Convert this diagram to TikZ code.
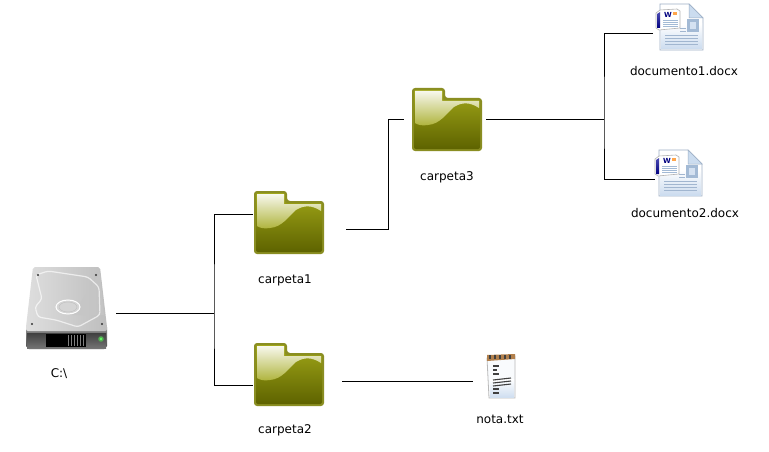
\documentclass[tikz,border=0pt]{standalone}
\usepackage{fontspec}
\setmainfont{DejaVu Sans}
\usetikzlibrary{calc}
\definecolor{foldedge}{HTML}{8A8E22}
\definecolor{foldtop}{HTML}{A0A618}
\definecolor{foldbot}{HTML}{5E6300}
\definecolor{disklight}{HTML}{DEDEDE}
\definecolor{diskmid}{HTML}{BEBEBE}
\definecolor{pageblue}{HTML}{A9C4E4}
\tikzset{
  x=1pt,y=-1pt,
  conn/.style={draw=black,line width=0.8pt},
  lbl/.style={font=\fontsize{12}{14}\selectfont,text=black,inner sep=0pt},
  iconbox/.style={inner sep=0pt,minimum width=#1,minimum height=1pt},
  foldericon/.pic={
    \fill[foldedge,rounded corners=3pt] (0,0) -- (33,0) -- (33,10) -- (70,10) -- (70,63) -- (0,63) -- cycle;
    \shade[top color=foldtop,bottom color=foldbot,rounded corners=2pt] (2,2) -- (31,2) -- (31,12) -- (68,12) -- (68,61) -- (2,61) -- cycle;
    \shade[top color=white!92!foldtop,bottom color=foldtop!85!white] (3,3) -- (30,3) -- (30,13) -- (67,13) -- (67,20)
      .. controls (58,14) and (50,14) .. (42,19) .. controls (34,26) and (28,36) .. (16,37)
      .. controls (10,38) and (6,37) .. (3,35) -- cycle;
  },
  docicon/.pic={
    \fill[white,draw=pageblue!70!gray,line width=0.8pt] (0,0) -- (29,0) -- (43,14) -- (43,46) -- (0,46) -- cycle;
    \shade[top color=white,bottom color=pageblue!60!white] (1,20) -- (42,20) -- (42,45) -- (1,45) -- cycle;
    \fill[pageblue!60!white,draw=pageblue!70!gray,line width=0.5pt] (29,0) -- (29,14) -- (43,14) -- cycle;
    \fill[pageblue!85!gray] (27,15) rectangle (39,28);
    \fill[pageblue!50!white] (30,18) rectangle (36,25);
    \foreach \yy in {24,27}{\draw[pageblue!80!gray,line width=0.7pt] (20,\yy) -- (26,\yy);}
    \foreach \yy in {31,34,37,40}{\draw[pageblue!80!gray,line width=0.7pt] (5,\yy) -- (38,\yy);}
    \fill[white,draw=gray!60,line width=0.6pt] (-4,9) -- (0,6) -- (17,5) -- (20,7) -- (20,24) -- (-1,26) -- (-4,24) -- cycle;
    \shade[top color=blue!40!gray,bottom color=blue!50!black] (-3,10) -- (0,8) -- (0,24) -- (-3,24) -- cycle;
    \fill[orange!70!white] (13,8) rectangle (17,11);
    \node[inner sep=0pt,text=blue!50!black,font=\fontsize{7}{7}\selectfont\bfseries] (wchar) at (8,11) {W};
    \foreach \yy in {16,18,20,22}{\draw[pageblue!85!gray,line width=0.6pt] (3,\yy) -- (18,\yy);}
  },
  noteicon/.pic={
    \fill[white!93!pageblue,draw=gray!55,line width=0.8pt] (0,3) -- (28,1) -- (28,43) -- (2,43) -- cycle;
    \shade[top color=white,bottom color=pageblue!55!white] (3,24) -- (27,24) -- (27,42) -- (3,42) -- cycle;
    \fill[gray!60!orange] (0,0) -- (28,-1) -- (28,4) -- (0,6) -- cycle;
    \foreach \xx in {3,8,13,18,23}{\draw[black!75,line width=1.2pt] (\xx,0) -- (\xx,4);}
    \foreach \ya/\xb in {11/12,15/10,19/12}{\draw[black!75,line width=1.1pt] (6,\ya) -- (\xb,\ya);}
    \foreach \yy in {22,25,28}{\draw[black!75,line width=1.1pt] (6,\yy+3) -- (24,\yy+1);}
    \foreach \ya/\xb in {34/12,38/12}{\draw[black!75,line width=1.1pt] (6,\ya) -- (\xb,\ya);}
  },
  diskicon/.pic={
    \shade[top color=black!45,bottom color=black!70] (0,60) -- (81,60) -- (81,79) -- (78,82) -- (3,82) -- (0,79) -- cycle;
    \shade[left color=disklight,right color=diskmid,rounded corners=2pt] (7,0) -- (74,0) -- (81,60) -- (81,64) -- (0,64) -- (0,60) -- cycle;
    \fill[gray!45,opacity=.7] (74,6) -- (78,48) -- (46,48) -- cycle;
    \draw[white,opacity=.65,line width=1.2pt,rounded corners=3pt] (10,8) -- (16,32) -- (9,40) -- (12,50) -- (30,53) -- (52,60) -- (74,48) -- (73,20) -- (62,10) -- (22,4) -- cycle;
    \draw[white,line width=1pt,fill=disklight!90!gray] (42,40) ellipse[x radius=12,y radius=7];
    \draw[gray!50,line width=0.4pt] (42,40) ellipse[x radius=9,y radius=5];
    \foreach \p in {(6,57),(76,57),(12,8),(70,8)}{\fill[gray!40!black] \p circle[radius=1.2];}
    \shade[top color=black!75,bottom color=black!55] (1,66) rectangle (80,81);
    \fill[black] (20,67) rectangle (60,80);
    \foreach \xx in {42,45,48,51,54,57}{\draw[black!50,line width=0.7pt] (\xx,68) -- (\xx,79);}
    \fill[green!35!gray] (75,72) circle[radius=2.8];
    \fill[green!60!white] (75,72) circle[radius=1.3];
  }
}
\begin{document}
\begin{tikzpicture}
\useasboundingbox (0,0) rectangle (769,452);
\fill[white] (0,0) rectangle (769,452);
% icons
\pic at (26,267) {diskicon};
\pic at (254,191) {foldericon};
\pic at (254,343) {foldericon};
\pic at (412,88) {foldericon};
\pic at (660,4) {docicon};
\pic at (659,150) {docicon};
\pic at (487,355) {noteicon};
% named attachment nodes at the icons' connector ends
\node[iconbox=0pt] (disk) at (116,313) {};
\node[iconbox=0pt] (f1in) at (253,214) {};
\node[iconbox=0pt] (f1out) at (346,229) {};
\node[iconbox=0pt] (f2in) at (253,385) {};
\node[iconbox=0pt] (f2out) at (342,381) {};
\node[iconbox=0pt] (f3in) at (404,119) {};
\node[iconbox=0pt] (f3out) at (486,119) {};
\node[iconbox=0pt] (d1in) at (653,33) {};
\node[iconbox=0pt] (d2in) at (655,179) {};
\node[iconbox=0pt] (notein) at (473,381) {};
\coordinate (jA) at (214,313);
\coordinate (jB) at (388,229);
\coordinate (jC) at (604,119);
% connectors
\draw[conn] (disk.center) -- (jA);
\draw[conn] (f1in.center) -| (jA) |- (f2in.center);
\draw[conn] (f1out.center) -- (jB) |- (f3in.center);
\draw[conn] (f3out.center) -- (jC);
\draw[conn] (d1in.center) -| (jC) |- (d2in.center);
\draw[conn] (f2out.center) -- (notein.center);
% labels
\node[lbl] (lc) at (59,374) {C:\textbackslash};
\node[lbl] (l1) at (285,280) {carpeta1};
\node[lbl] (l2) at (285,430) {carpeta2};
\node[lbl] (l3) at (447,177) {carpeta3};
\node[lbl] (l4) at (684,71) {documento1.docx};
\node[lbl] (l5) at (685,213) {documento2.docx};
\node[lbl] (l6) at (500,419) {nota.txt};
\end{tikzpicture}
\end{document}
